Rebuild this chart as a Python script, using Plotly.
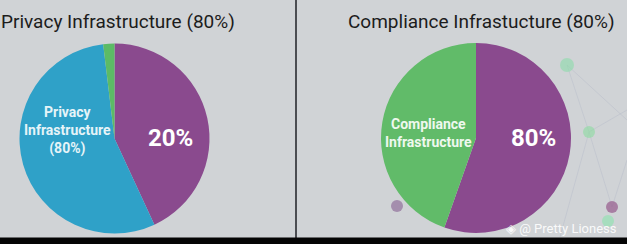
import plotly.graph_objects as go

W, H = 627, 244

# ---- data ----
left_labels = ["Other (purple)", "Privacy Infrastructure", "Other (green)"]
left_values = [43.1, 55.0, 1.9]
left_colors = ["#8a4a8e", "#2fa1c8", "#5cbb66"]

right_labels = ["Other (purple)", "Compliance Infrastructure"]
right_values = [55.4, 44.6]
right_colors = ["#8a4a8e", "#61bb69"]

titles = ["Privacy Infrastructure (80%)", "Compliance Infrastucture (80%)"]
left_texts = ["20%", "Privacy<br>Infrastructure<br>(80%)"]
right_texts = ["80%", "Compliance<br>Infrastructure"]


def px(x):
    return x / W


def py(y):
    return 1 - y / H


fig = go.Figure()

fig.add_trace(go.Pie(
    labels=left_labels, values=left_values, sort=False, direction="clockwise",
    rotation=0, marker=dict(colors=left_colors, line=dict(width=0)),
    textinfo="none", hoverinfo="label+percent", showlegend=False,
    domain=dict(x=[px(19.5), px(209.5)], y=[py(233.5), py(43.5)]),
))
fig.add_trace(go.Pie(
    labels=right_labels, values=right_values, sort=False, direction="clockwise",
    rotation=0, marker=dict(colors=right_colors, line=dict(width=0)),
    textinfo="none", hoverinfo="label+percent", showlegend=False,
    domain=dict(x=[px(381), px(571)], y=[py(233), py(43)]),
))

shapes = []
# decorative network lines (very faint)
for (a, b) in [((567, 65), (627, 120)), ((589, 132), (627, 110)), ((589, 132), (612, 207)),
               ((612, 207), (627, 160)), ((567, 65), (589, 132)), ((589, 132), (560, 237))]:
    shapes.append(dict(type="line", xref="paper", yref="paper",
                       x0=px(a[0]), y0=py(a[1]), x1=px(b[0]), y1=py(b[1]),
                       line=dict(color="rgba(170,176,195,0.3)", width=1), layer="below"))
# decorative dots
for (cx, cy, r, col) in [(567, 65, 7, "rgba(140,220,170,0.6)"),
                         (589, 132, 6, "rgba(140,220,160,0.6)"),
                         (397, 206, 6, "rgba(140,105,150,0.65)"),
                         (612, 207, 6, "rgba(150,90,140,0.7)"),
                         (608, 221, 6, "rgba(150,225,180,0.7)")]:
    shapes.append(dict(type="circle", xref="paper", yref="paper",
                       x0=px(cx - r), x1=px(cx + r), y0=py(cy + r), y1=py(cy - r),
                       fillcolor=col, line=dict(width=0)))
# divider
shapes.append(dict(type="line", xref="paper", yref="paper",
                   x0=px(296), x1=px(296), y0=py(238), y1=1,
                   line=dict(color="#4b4d52", width=2)))
# bottom black strip
shapes.append(dict(type="rect", xref="paper", yref="paper",
                   x0=0, x1=1, y0=0, y1=py(237.5),
                   fillcolor="#050505", line=dict(width=0)))

ann = []
# titles
ann.append(dict(text=titles[0], x=px(118), y=py(21), xref="paper", yref="paper",
                showarrow=False, xanchor="center", yanchor="middle",
                font=dict(family="Roboto", size=19, color="#1c1c1c")))
ann.append(dict(text=titles[1], x=px(481.5), y=py(21), xref="paper", yref="paper",
                showarrow=False, xanchor="center", yanchor="middle",
                font=dict(family="Roboto", size=19, color="#1c1c1c")))
# slice labels
ann.append(dict(text=left_texts[0], x=px(170.5), y=py(137.5), xref="paper", yref="paper",
                showarrow=False, xanchor="center", yanchor="middle",
                font=dict(family="Roboto", size=24, color="white", weight="bold")))
ann.append(dict(text=left_texts[1], x=px(67), y=py(130), xref="paper", yref="paper",
                showarrow=False, xanchor="center", yanchor="middle",
                font=dict(family="Roboto", size=14, color="#e6f4f8", weight="bold")))
ann.append(dict(text=right_texts[0], x=px(533), y=py(138), xref="paper", yref="paper",
                showarrow=False, xanchor="center", yanchor="middle",
                font=dict(family="Roboto", size=24, color="white", weight="bold")))
ann.append(dict(text=right_texts[1], x=px(428), y=py(132.5), xref="paper", yref="paper",
                showarrow=False, xanchor="center", yanchor="middle",
                font=dict(family="Roboto", size=14, color="#eef8ee", weight="bold")))
# watermark
ann.append(dict(text="◈ @ Pretty Lioness", x=px(619), y=py(228), xref="paper", yref="paper",
                showarrow=False, xanchor="right", yanchor="middle",
                font=dict(family="Roboto", size=13, color="rgba(255,255,255,0.9)")))

fig.update_layout(
    width=W, height=H, margin=dict(l=0, r=0, t=0, b=0),
    paper_bgcolor="#d0d3d6", plot_bgcolor="#d0d3d6",
    shapes=shapes, annotations=ann,
)

fig.write_html("out.html")
